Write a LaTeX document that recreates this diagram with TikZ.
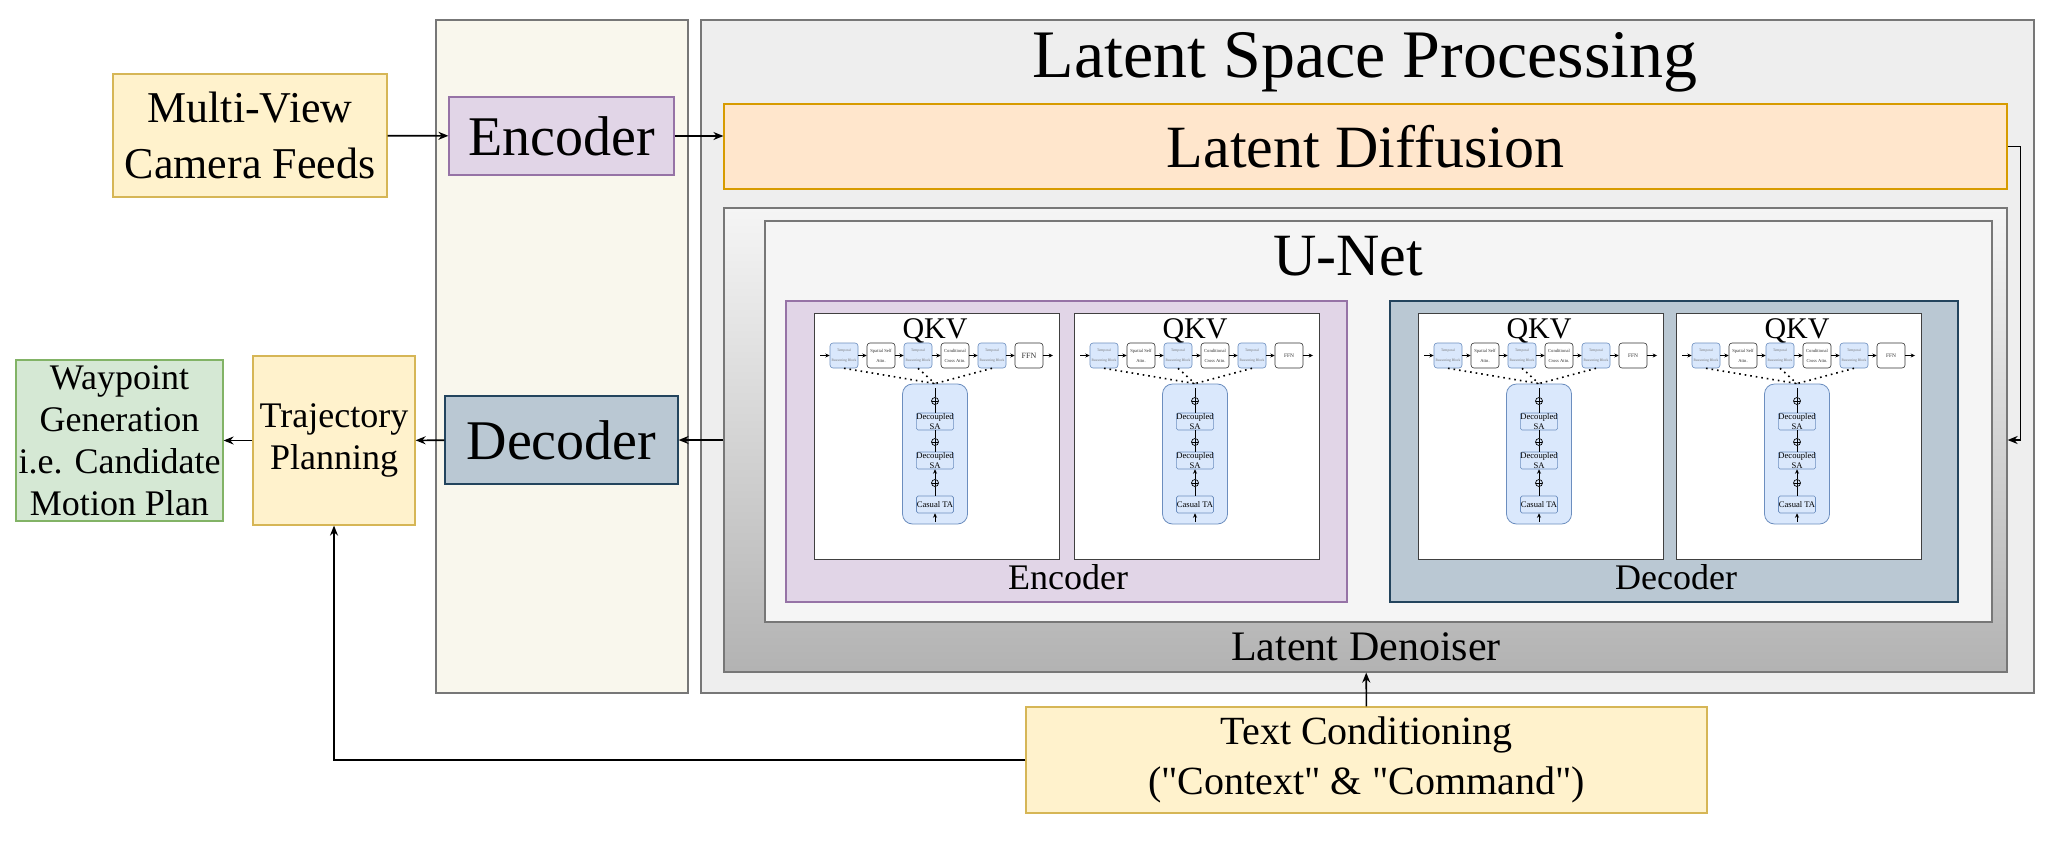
\documentclass[tikz,border=0pt]{standalone}
\usepackage{fontspec}
\setmainfont{Liberation Serif}
\newfontfamily\quotefont{Liberation Serif}
\usetikzlibrary{arrows.meta}

\newlength{\du}
\setlength{\du}{0.5pt}

\definecolor{feedfill}{HTML}{FFF2CC}
\definecolor{feedline}{HTML}{D6B656}
\definecolor{encfill}{HTML}{E1D5E7}
\definecolor{encline}{HTML}{9673A6}
\definecolor{decfill}{HTML}{BAC8D3}
\definecolor{decline}{HTML}{23445D}
\definecolor{wayfill}{HTML}{D5E8D4}
\definecolor{wayline}{HTML}{82B366}
\definecolor{difffill}{HTML}{FFE6CC}
\definecolor{diffline}{HTML}{D79B00}
\definecolor{codecfill}{HTML}{F9F7ED}
\definecolor{panelline}{HTML}{777777}
\definecolor{lspfill}{HTML}{EEEEEE}
\definecolor{unetfill}{HTML}{F5F5F5}
\definecolor{blkfill}{HTML}{DAE8FC}
\definecolor{blkline}{HTML}{6C8EBF}

\tikzset{
  plainbox/.style={draw, rectangle, inner sep=0pt, align=center, line width=0.6pt},
  feedbox/.style={plainbox, fill=feedfill, draw=feedline},
  encbox/.style={plainbox, fill=encfill, draw=encline},
  decbox/.style={plainbox, fill=decfill, draw=decline},
  waybox/.style={plainbox, fill=wayfill, draw=wayline},
  panel/.style={plainbox, draw=panelline},
  arr/.style={-{Stealth[length=5pt,width=4pt]}, line width=0.8pt},
  % inside the QKV cards
  qkvbox/.style={draw=black!75, fill=white, line width=0.5pt, inner sep=0pt,
    minimum width=245\du, minimum height=246\du},
  tempbox/.style={draw=blkline, fill=blkfill, rounded corners=1.5pt, line width=0.3pt,
    inner sep=0pt, align=center, text=black!55, minimum width=28\du, minimum height=25\du,
    font=\fontsize{1.8pt}{5pt}\selectfont},
  opbox/.style={tempbox, draw=black!80, fill=white, text=black!80,
    font=\fontsize{2.3pt}{5pt}\selectfont},
  hub/.style={draw=blkline, fill=blkfill, rounded corners=5pt, line width=0.4pt,
    minimum width=65\du, minimum height=140\du, inner sep=0pt},
  sabox/.style={draw=blkline, fill=blkfill, rounded corners=0.8pt, line width=0.3pt,
    inner sep=0pt, align=center, minimum width=37\du, minimum height=17\du,
    font=\fontsize{4.3pt}{5.3pt}\selectfont},
  oplus/.style={circle, draw, line width=0.35pt, inner sep=0pt, minimum size=7\du,
    path picture={\draw[line width=0.35pt] (path picture bounding box.west) -- (path picture bounding box.east)
      (path picture bounding box.north) -- (path picture bounding box.south);}},
  tinyarr/.style={-{Stealth[length=2.2pt,width=2pt]}, line width=0.4pt},
  tapline/.style={dotted, line width=0.8pt},
}

\begin{document}
\begin{tikzpicture}[yscale=-1]
\useasboundingbox (0,0) rectangle (2048\du,856\du);

% big panels
\node[panel, fill=codecfill, minimum width=252\du, minimum height=673\du] (codec) at (562\du,356.5\du) {};
\node[panel, fill=lspfill, minimum width=1333\du, minimum height=673\du] (lsp) at (1367.5\du,356.5\du) {};
\node[font=\fontsize{34pt}{40pt}\selectfont] (lsptitle) at (1365\du,62\du) {Latent Space Processing};

\node[plainbox, fill=difffill, draw=diffline, minimum width=1283\du, minimum height=85\du,
  font=\fontsize{30pt}{36pt}\selectfont] (ld) at (1365.5\du,146.5\du) {Latent Diffusion};

\node[panel, top color=unetfill, bottom color=black!30, minimum width=1283\du, minimum height=464\du] (denoiser) at (1365.5\du,440\du) {};
\node[font=\fontsize{21pt}{25pt}\selectfont] (denoisertitle) at (1366\du,647\du) {Latent Denoiser};

\node[panel, fill=unetfill, minimum width=1227\du, minimum height=401\du] (unet) at (1378.5\du,421.5\du) {};
\node[font=\fontsize{30pt}{36pt}\selectfont] (unettitle) at (1348\du,256\du) {U-Net};

\node[encbox, minimum width=561\du, minimum height=301\du] (encp) at (1066.5\du,451.5\du) {};
\node[font=\fontsize{18pt}{22pt}\selectfont] (encptitle) at (1068\du,577\du) {Encoder};
\node[decbox, minimum width=568\du, minimum height=301\du] (decp) at (1674\du,451.5\du) {};
\node[font=\fontsize{18pt}{22pt}\selectfont] (decptitle) at (1676\du,577\du) {Decoder};

% QKV cards
\foreach \qx/\qn/\ffnsize in {814/qa/4, 1074/qb/2.7, 1418/qc/2.7, 1676/qd/2.7}{
\begin{scope}[shift={(\qx\du,313\du)}]
\node[qkvbox] (\qn) at (122.5\du,123\du) {};
\node[font=\fontsize{15pt}{18pt}\selectfont] (\qn-t) at (121\du,18\du) {QKV};
\coordinate (\qn-in) at (6\du,42.5\du);
\coordinate (\qn-out) at (239\du,42.5\du);
\node[tempbox] (\qn-b1) at (30\du,42.5\du) {Temporal\\Reasoning Block};
\node[opbox] (\qn-b2) at (67\du,42.5\du) {Spatial Self\\Attn.};
\node[tempbox] (\qn-b3) at (104\du,42.5\du) {Temporal\\Reasoning Block};
\node[opbox] (\qn-b4) at (141\du,42.5\du) {Conditional\\Cross Attn.};
\node[tempbox] (\qn-b5) at (178\du,42.5\du) {Temporal\\Reasoning Block};
\node[opbox, font=\fontsize{\ffnsize pt}{5pt}\selectfont] (\qn-b6) at (215\du,42.5\du) {FFN};
\draw[tinyarr] (\qn-in) -- (\qn-b1);
\draw[tinyarr] (\qn-b1) -- (\qn-b2);
\draw[tinyarr] (\qn-b2) -- (\qn-b3);
\draw[tinyarr] (\qn-b3) -- (\qn-b4);
\draw[tinyarr] (\qn-b4) -- (\qn-b5);
\draw[tinyarr] (\qn-b5) -- (\qn-b6);
\draw[tinyarr] (\qn-b6) -- (\qn-out);
% reasoning hub
\node[hub] (\qn-hub) at (121\du,141\du) {};
\draw[tapline] (\qn-b1.south) -- (\qn-hub.north);
\draw[tapline] (\qn-b3.south) -- (\qn-hub.north);
\draw[tapline] (\qn-b5.south) -- (\qn-hub.north);
\coordinate (\qn-top) at (121\du,75\du);
\coordinate (\qn-bot) at (121\du,209\du);
\node[oplus] (\qn-p1) at (121\du,88\du) {};
\node[sabox] (\qn-s1) at (121\du,108.5\du) {Decoupled\\SA};
\node[oplus] (\qn-p2) at (121\du,129\du) {};
\node[sabox] (\qn-s2) at (121\du,147.5\du) {Decoupled\\SA};
\node[oplus] (\qn-p3) at (121\du,170\du) {};
\node[sabox] (\qn-ta) at (121\du,191.5\du) {Casual TA};
\draw[line width=0.4pt] (\qn-top) -- (\qn-p1);
\draw[line width=0.4pt] (\qn-p1) -- (\qn-s1);
\draw[line width=0.4pt] (\qn-s1) -- (\qn-p2);
\draw[line width=0.4pt] (\qn-p2) -- (\qn-s2);
\draw[tinyarr] (\qn-p3) -- (\qn-s2);
\draw[line width=0.4pt] (\qn-ta) -- (\qn-p3);
\draw[tinyarr] (\qn-bot) -- (\qn-ta);
\end{scope}
}

% left column
\node[feedbox, minimum width=274\du, minimum height=123\du,
  font=\fontsize{22pt}{28pt}\selectfont] (feeds) at (250\du,135.5\du) {Multi-View\\Camera Feeds};
\node[encbox, minimum width=225\du, minimum height=78\du,
  font=\fontsize{28pt}{34pt}\selectfont] (enc) at (561.5\du,136\du) {Encoder};
\node[decbox, minimum width=233\du, minimum height=88\du,
  font=\fontsize{28pt}{34pt}\selectfont] (dec) at (561.5\du,440\du) {Decoder};
\node[feedbox, minimum width=162\du, minimum height=169\du,
  font=\fontsize{18pt}{21pt}\selectfont] (traj) at (334\du,440.5\du) {Trajectory\\Planning};
\node[waybox, minimum width=207\du, minimum height=161\du,
  font=\fontsize{18pt}{21pt}\selectfont] (wp) at (119.5\du,440.5\du) {Waypoint\\Generation\\i.e. Candidate\\Motion Plan};
\node[feedbox, minimum width=681\du, minimum height=106\du,
  font=\quotefont\fontsize{20pt}{25pt}\selectfont] (textcond) at (1366.5\du,760\du) {Text Conditioning\\("Context" \& "Command")};

% connectors
\draw[arr] (feeds) -- (enc);
\draw[arr] (enc.east) -- (enc.east -| ld.west);
\draw[arr] (ld.east) -- ++(13\du,0) |- (denoiser.east);
\draw[arr] (denoiser.west) -- (dec.east);
\draw[arr] (dec) -- (traj);
\draw[arr] (traj) -- (wp);
\draw[arr] (textcond) -- (denoiser);
\draw[arr] (textcond.west) -| (traj.south);
\end{tikzpicture}
\end{document}
